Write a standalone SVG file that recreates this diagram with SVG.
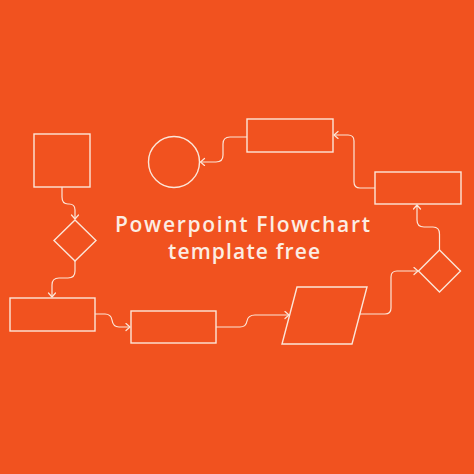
<svg xmlns="http://www.w3.org/2000/svg" width="474" height="474" viewBox="0 0 474 474">
  <defs>
    <style>
      .shape { fill: none; stroke: #FCE6D8; stroke-width: 1.4; }
      .conn { fill: none; stroke: #FCE6D8; stroke-width: 1.2; marker-end: url(#arrow); }
      .title { font-family: "Open Sans", "Liberation Sans", sans-serif; font-weight: 600; font-size: 21px; fill: #FCEDE3; text-anchor: middle; }
    </style>
    <marker id="arrow" markerWidth="8" markerHeight="10" refX="5" refY="4" orient="auto" markerUnits="userSpaceOnUse">
      <path d="M1,0.5 L5,4 L1,7.5" fill="none" stroke="#FCE6D8" stroke-width="1.2" stroke-linecap="round" stroke-linejoin="round"/>
    </marker>
  </defs>
  <rect x="0" y="0" width="474" height="474" fill="#F1521F"/>

  <g id="connectors">
    <path class="conn" d="M62,187 V197 Q62,204 68,204 H69 Q75,204 75,210 V219"/>
    <path class="conn" d="M75,261 V271 Q75,278 68,278 H59 Q52,278 52,285 V297"/>
    <path class="conn" d="M95,314 H105 Q111,314 112,320 Q113,327 119,327 H130"/>
    <path class="conn" d="M216,327 H240 Q246,327 247,321 Q248,315 255,315 H289"/>
    <path class="conn" d="M360,314 H385 Q391,314 391,308 V277 Q391,271 397,271 H418"/>
    <path class="conn" d="M439.5,250 V234 Q439.5,227 433,227 H424 Q417,227 417,220 V205"/>
    <path class="conn" d="M375,188 H360 Q354,188 354,182 V141 Q354,135 348,135 H334"/>
    <path class="conn" d="M247,137 H230 Q223,137 223,144 V155 Q223,162 216,162 H200.5"/>
  </g>

  <g id="node-square"><rect class="shape" x="34" y="134" width="56" height="53"/></g>
  <g id="node-diamond-left"><polygon class="shape" points="75,220 96,240.5 75,261 54,240.5"/></g>
  <g id="node-rect-a"><rect class="shape" x="10" y="298" width="85" height="33"/></g>
  <g id="node-rect-b"><rect class="shape" x="131" y="311" width="85" height="32"/></g>
  <g id="node-parallelogram"><polygon class="shape" points="297,287 367,287 352,344 282,344"/></g>
  <g id="node-diamond-right"><polygon class="shape" points="439.5,250 460.5,271 439.5,292 418.5,271"/></g>
  <g id="node-rect-right"><rect class="shape" x="375" y="172" width="86" height="32"/></g>
  <g id="node-rect-top"><rect class="shape" x="247" y="119" width="86" height="33"/></g>
  <g id="node-circle"><circle class="shape" cx="174" cy="162" r="25.5"/></g>

  <g id="title">
    <text class="title" x="242.5" y="231.5" textLength="255" lengthAdjust="spacing">Powerpoint Flowchart</text>
    <text class="title" x="244" y="258.5" textLength="152" lengthAdjust="spacing">template free</text>
  </g>
</svg>
